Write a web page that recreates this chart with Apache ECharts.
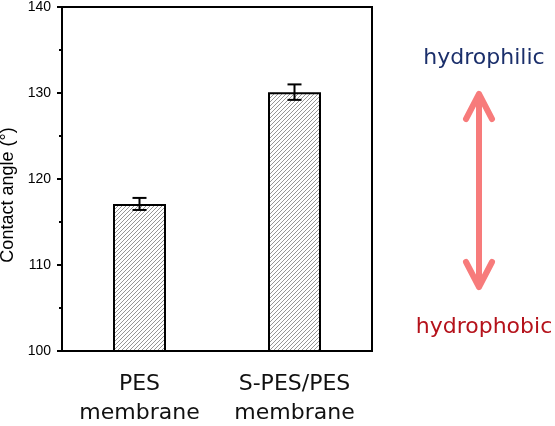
<!DOCTYPE html>
<html>
<head>
<meta charset="utf-8">
<script src="https://cdn.jsdelivr.net/npm/echarts@6/dist/echarts.min.js"></script>
<style>
html,body{margin:0;padding:0;background:#fff;}
#c{width:555px;height:426px;}
</style>
</head>
<body>
<div id="c"></div>
<script>
var categories = ['PES\nmembrane', 'S-PES/PES\nmembrane'];
var contactAngle = [117.1, 130.1];
var errors = [0.7, 0.9];
var yTicks = [100, 110, 120, 130, 140];

// hatch pattern
var S = 4;
var pc = document.createElement('canvas');
pc.width = S; pc.height = S;
var g = pc.getContext('2d');
g.fillStyle = '#ffffff';
g.fillRect(0, 0, S, S);
g.strokeStyle = '#8a8a8a';
g.lineWidth = 0.9;
g.beginPath();
g.moveTo(0, S); g.lineTo(S, 0);
g.moveTo(-1, 1); g.lineTo(1, -1);
g.moveTo(S - 1, S + 1); g.lineTo(S + 1, S - 1);
g.stroke();

var chart = echarts.init(document.getElementById('c'));
var arrowColor = '#f77b7b';
chart.setOption({
  animation: false,
  grid: { left: 62, right: 183, top: 7, bottom: 75, show: true, borderColor: '#000', borderWidth: 2, containLabel: false, outerBoundsMode: 'none' },
  xAxis: {
    type: 'category',
    data: categories,
    axisLine: { lineStyle: { color: '#000', width: 2 } },
    axisTick: { show: false },
    axisLabel: { interval: 0, color: '#111', fontFamily: 'DejaVu Sans', fontSize: 22, lineHeight: 29, margin: 19 }
  },
  yAxis: {
    type: 'value',
    min: yTicks[0], max: yTicks[yTicks.length - 1], interval: 10,
    name: 'Contact angle (°)',
    nameLocation: 'middle',
    nameGap: 43,
    nameTextStyle: { fontFamily: 'Liberation Sans', fontSize: 18, color: '#000', padding: [0, 32, 0, 0] },
    axisLine: { show: true, lineStyle: { color: '#000', width: 2 } },
    axisTick: { show: true, length: 5, lineStyle: { color: '#000', width: 2 } },
    minorTick: { show: true, splitNumber: 2, length: 3, lineStyle: { color: '#000', width: 2 } },
    splitLine: { show: false },
    axisLabel: { color: '#000', fontFamily: 'Liberation Sans', fontSize: 14, margin: 11 }
  },
  series: [
    {
      type: 'bar',
      data: contactAngle,
      barWidth: 53,
      itemStyle: { color: { image: pc, repeat: 'repeat' }, borderColor: '#000', borderWidth: 2 }
    },
    {
      type: 'custom',
      data: contactAngle.map(function (v, i) { return [i, v - errors[i], v + errors[i]]; }),
      renderItem: function (params, api) {
        var lo = api.coord([api.value(0), api.value(1)]);
        var hi = api.coord([api.value(0), api.value(2)]);
        var w = 7;
        var st = { stroke: '#000', lineWidth: 2, fill: null };
        return {
          type: 'group',
          children: [
            { type: 'line', shape: { x1: hi[0], y1: hi[1], x2: lo[0], y2: lo[1] }, style: st },
            { type: 'line', shape: { x1: hi[0] - w, y1: hi[1], x2: hi[0] + w, y2: hi[1] }, style: st },
            { type: 'line', shape: { x1: lo[0] - w, y1: lo[1], x2: lo[0] + w, y2: lo[1] }, style: st }
          ]
        };
      },
      z: 5
    }
  ],
  graphic: [
    { type: 'text', x: 484, y: 58, style: { text: 'hydrophilic', fill: '#1b2f6b', font: '22px "DejaVu Sans"', textAlign: 'center', textVerticalAlign: 'middle' } },
    { type: 'text', x: 484, y: 327, style: { text: 'hydrophobic', fill: '#b5121b', font: '22px "DejaVu Sans"', textAlign: 'center', textVerticalAlign: 'middle' } },
    { type: 'line', shape: { x1: 479, y1: 95, x2: 479, y2: 286 }, style: { stroke: arrowColor, lineWidth: 6, lineCap: 'round' } },
    { type: 'polyline', shape: { points: [[466, 119], [479, 94], [492, 119]] }, style: { stroke: arrowColor, lineWidth: 6, lineCap: 'round', lineJoin: 'round', fill: null } },
    { type: 'polyline', shape: { points: [[466, 262], [479, 287], [492, 262]] }, style: { stroke: arrowColor, lineWidth: 6, lineCap: 'round', lineJoin: 'round', fill: null } }
  ]
});
</script>
</body>
</html>
